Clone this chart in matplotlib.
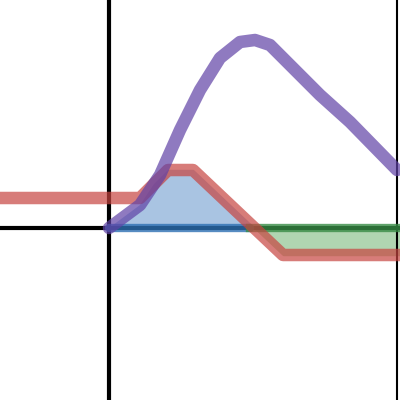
import numpy as np
import matplotlib
matplotlib.use("Agg")
import matplotlib.pyplot as plt

# purple curve points (x, y)
purple_x = [0.0, 0.31, 0.51, 0.71, 0.91, 1.11, 1.31, 1.46, 1.61, 1.81, 2.11, 2.41, 2.88]
purple_y = [0.0, 0.23, 0.53, 0.98, 1.38, 1.70, 1.86, 1.88, 1.83, 1.63, 1.33, 1.06, 0.58]
# red piecewise-linear curve
red_x = [-1.09, 0.31, 0.59, 0.84, 1.74, 2.91]
red_y = [0.30, 0.30, 0.58, 0.58, -0.27, -0.27]
green_x = [1.41, 2.91]
green_y = [0.0, 0.0]
blue_x = [0.0, 1.41]
blue_y = [0.0, 0.0]

fig = plt.figure(figsize=(4, 4), dpi=100)
ax = fig.add_axes([0, 0, 1, 1])
ax.set_xlim(-1.09, 2.91)
ax.set_ylim(-1.72, 2.28)
ax.axis("off")

xs = np.linspace(0, 1.41, 300)
top = np.minimum(np.interp(xs, purple_x, purple_y), np.interp(xs, red_x, red_y))
ax.fill_between(xs, 0, top, color="#a9c4e2", zorder=1)
xg = np.linspace(1.41, 2.91, 200)
ax.fill_between(xg, 0, np.interp(xg, red_x, red_y), color="#b0d5b1", zorder=1)

ax.axhline(0, color="black", lw=3, zorder=2)
ax.axvline(0, color="black", lw=3, zorder=2)
ax.axvline(2.88, color="black", lw=1.5, zorder=2)

ax.plot(blue_x, blue_y, color="#2d70b3", lw=6, alpha=0.8, zorder=3, solid_capstyle="round")
ax.plot(green_x, green_y, color="#388c46", lw=6, alpha=0.8, zorder=3)
ax.plot(red_x, red_y, color="#c74440", lw=9, alpha=0.7, zorder=4)
ax.plot(purple_x, purple_y, color="#6042a6", lw=9, alpha=0.7, zorder=4, solid_capstyle="round")

fig.savefig("out.png", dpi=100)
